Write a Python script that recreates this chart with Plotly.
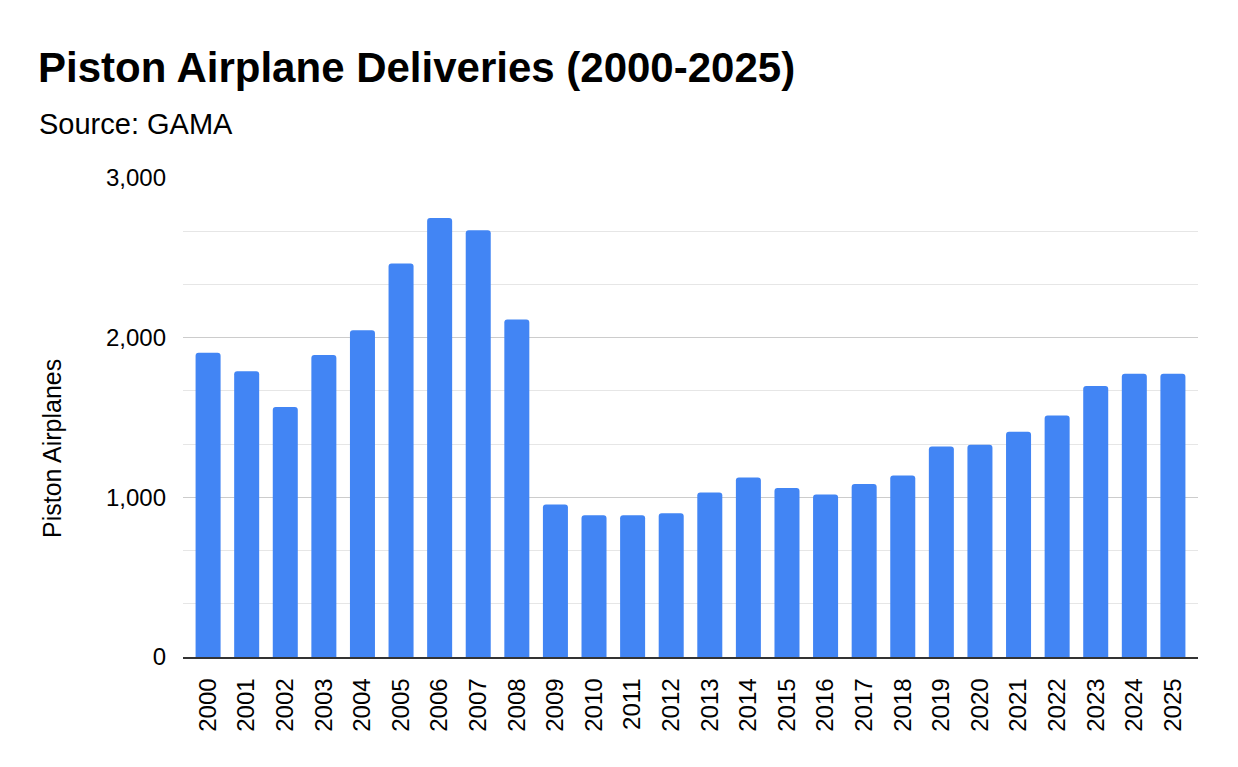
import plotly.graph_objects as go

years = [str(y) for y in range(2000, 2026)]
deliveries = [1906, 1789, 1565, 1891, 2047, 2464, 2750, 2672, 2113, 955,
              888, 888, 900, 1030, 1124, 1059, 1017, 1084, 1136, 1318,
              1330, 1411, 1513, 1697, 1774, 1774]
y_ticks = [0, 1000, 2000, 3000]
y_tick_labels = ["0", "1,000", "2,000", "3,000"]

FONT = "Liberation Sans, Arial, Helvetica, sans-serif"

fig = go.Figure(go.Bar(
    x=years, y=deliveries, marker=dict(color="#4285f4", line=dict(width=0)),
    hoverinfo="x+y"
))

fig.update_layout(
    width=1238, height=767,
    paper_bgcolor="white", plot_bgcolor="white",
    margin=dict(l=183, r=40, t=178, b=110),
    bargap=0.352,
    barcornerradius=3,
    showlegend=False,
    font=dict(family=FONT, color="#000000", size=24),
    title=dict(text="<b>Piston Airplane Deliveries (2000-2025)</b>",
               font=dict(family=FONT, size=42, color="#000000"),
               xref="container", yref="container",
               x=38/1238, xanchor="left", y=1-67/767, yanchor="middle"),
    annotations=[
        dict(text="Source: GAMA", xref="paper", yref="paper",
             x=(37-183)/1015, xanchor="left",
             y=(657-124)/479, yanchor="middle", showarrow=False,
             font=dict(family=FONT, size=29, color="#000000")),
        dict(text="Piston Airplanes", xref="paper", yref="paper",
             x=(52-183)/1015, xanchor="center",
             y=(657-449)/479, yanchor="middle", textangle=-90, showarrow=False,
             font=dict(family=FONT, size=25, color="#000000")),
    ],
)

fig.update_yaxes(
    range=[0, 3000], tickvals=y_ticks, ticktext=y_tick_labels,
    showgrid=True, gridcolor="#cccccc", gridwidth=1,
    minor=dict(dtick=1000/3, tick0=0, showgrid=True, gridcolor="#e6e6e6", gridwidth=1),
    zeroline=False, ticks="", ticklabelstandoff=16,
    tickfont=dict(size=24, family=FONT, color="#000000"),
)
fig.update_xaxes(
    type="category", tickangle=-90, range=[-0.65, 25.65],
    showline=True, linecolor="#333333", linewidth=1.5,
    ticks="", ticklabelstandoff=10,
    tickfont=dict(size=24, family=FONT, color="#000000"),
    showgrid=False,
)

fig.write_html("out.html")
